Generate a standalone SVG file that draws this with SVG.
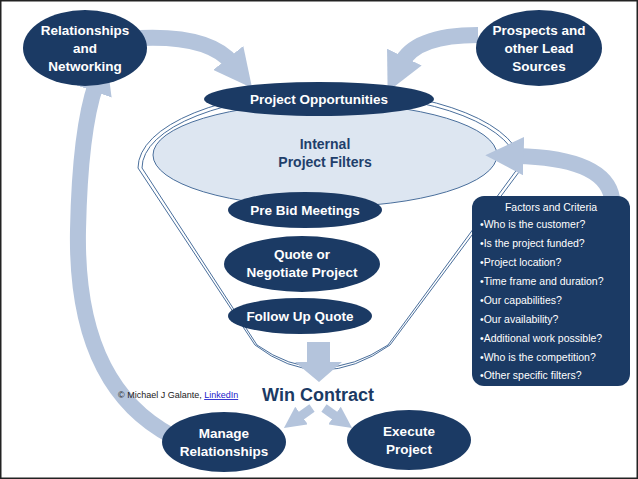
<svg xmlns="http://www.w3.org/2000/svg" width="638" height="479" viewBox="0 0 638 479">
<defs>
<style>
.n{fill:#1b3a64}
.t{fill:#fff;font-family:"Liberation Sans",Arial,sans-serif;font-weight:bold;font-size:13.5px;text-anchor:middle}
.a{fill:none;stroke:#b4c4dc;stroke-width:16}
.f{fill:#fff;font-family:"Liberation Sans",Arial,sans-serif;font-size:10.5px}
</style>
<marker id="h" viewBox="0 0 10 10" refX="2" refY="5" markerWidth="2.4" markerHeight="2.4" orient="auto"><path d="M0,0L10,5L0,10z" fill="#b4c4dc"/></marker>
</defs>
<rect x="0" y="0" width="638" height="479" fill="#fff" stroke="#222" stroke-width="3"/>
<g id="funnel" fill="none" stroke="#4a6f9c" stroke-width="1">
<path d="M138,168 A192,78 0 0 1 522,168 L390,345 Q320,395 255,345 Z" fill="#fff"/>
<path d="M142,168 A188,74 0 0 1 518,168 L388,345 Q320,390 257,345 Z"/>
<ellipse cx="325" cy="155" rx="172" ry="52" fill="#dde6f1"/>
</g>
<g id="connectors">
<path class="a" d="M140,38 Q210,35 233,64" marker-end="url(#h)"/>
<path class="a" d="M478,35 Q415,35 401,64" marker-end="url(#h)"/>
<path class="a" d="M612,198 Q605,158 516,156" marker-end="url(#h)"/>
<path class="a" d="M172,436 Q75,385 78,230 Q80,130 96,84" marker-end="url(#h)"/>
<path d="M307,342h23v20h12l-23,20l-24-20h12z" fill="#b4c4dc"/>
<path class="a" style="stroke-width:9" d="M312,408 L298,418" marker-end="url(#h)"/>
<path class="a" style="stroke-width:9" d="M324,408 L338,418" marker-end="url(#h)"/>
</g>
<text x="325" y="149" text-anchor="middle" font-family="Liberation Sans,Arial,sans-serif" font-weight="bold" font-size="14" fill="#1f3f6b">Internal</text>
<text x="325" y="167" text-anchor="middle" font-family="Liberation Sans,Arial,sans-serif" font-weight="bold" font-size="14" fill="#1f3f6b">Project Filters</text>
<g id="rel"><ellipse class="n" cx="85" cy="48" rx="62" ry="38"/><text class="t" x="85" y="35">Relationships</text><text class="t" x="85" y="53">and</text><text class="t" x="85" y="71">Networking</text></g>
<g id="prospects"><ellipse class="n" cx="539" cy="48" rx="63" ry="38"/><text class="t" x="539" y="35">Prospects and</text><text class="t" x="539" y="53">other Lead</text><text class="t" x="539" y="71">Sources</text></g>
<g id="opp"><ellipse class="n" cx="319" cy="99" rx="115" ry="17"/><text class="t" x="319" y="104">Project Opportunities</text></g>
<g id="prebid"><ellipse class="n" cx="305" cy="210" rx="77" ry="18"/><text class="t" x="305" y="215">Pre Bid Meetings</text></g>
<g id="quote"><ellipse class="n" cx="302" cy="264" rx="78" ry="28"/><text class="t" x="302" y="259">Quote or</text><text class="t" x="302" y="277">Negotiate Project</text></g>
<g id="follow"><ellipse class="n" cx="300" cy="316" rx="72" ry="18"/><text class="t" x="300" y="321">Follow Up Quote</text></g>
<g id="win"><text x="318" y="401" text-anchor="middle" font-family="Liberation Sans,Arial,sans-serif" font-weight="bold" font-size="18" fill="#1b3a64">Win Contract</text></g>
<g id="manage"><ellipse class="n" cx="224" cy="442" rx="62" ry="30"/><text class="t" x="224" y="438">Manage</text><text class="t" x="224" y="456">Relationships</text></g>
<g id="execute"><ellipse class="n" cx="409" cy="440" rx="62" ry="30"/><text class="t" x="409" y="436">Execute</text><text class="t" x="409" y="454">Project</text></g>
<g id="factors"><rect class="n" x="472" y="196" width="158" height="190" rx="12"/>
<text class="f" x="551" y="211" text-anchor="middle">Factors and Criteria</text>
<text class="f" x="480" y="228">•Who is the customer?</text>
<text class="f" x="480" y="247">•Is the project funded?</text>
<text class="f" x="480" y="266">•Project location?</text>
<text class="f" x="480" y="285">•Time frame and duration?</text>
<text class="f" x="480" y="304">•Our capabilities?</text>
<text class="f" x="480" y="323">•Our availability?</text>
<text class="f" x="480" y="342">•Additional work possible?</text>
<text class="f" x="480" y="361">•Who is the competition?</text>
<text class="f" x="480" y="379">•Other specific filters?</text>
</g>
<text x="118" y="398" font-family="Liberation Sans,Arial,sans-serif" font-size="9" fill="#222">© Michael J Galante, <tspan fill="#2222cc" text-decoration="underline">LinkedIn</tspan></text>
</svg>
